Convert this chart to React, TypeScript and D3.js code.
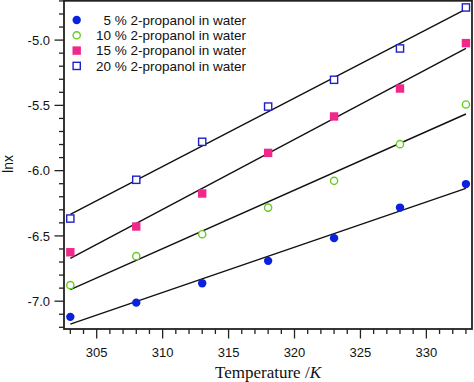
import React from "react";
import * as d3 from "d3";

const temps = [303, 308, 313, 318, 323, 328, 333];
const s5 = [-7.12, -7.011, -6.862, -6.691, -6.517, -6.283, -6.103];
const s10 = [-6.877, -6.655, -6.487, -6.283, -6.078, -5.797, -5.493];
const s15 = [-6.625, -6.428, -6.175, -5.864, -5.585, -5.371, -5.023];
const s20 = [-6.367, -6.07, -5.779, -5.509, -5.304, -5.064, -4.75];
const labels = ["5 % 2-propanol in water", "10 % 2-propanol in water", "15 % 2-propanol in water", "20 % 2-propanol in water"];
const xTicks = [305, 310, 315, 320, 325, 330];
const yTicks = [-7.0, -6.5, -6.0, -5.5, -5.0];

const series = [
  { vals: s5, type: "circleFill", color: "#0a22e0" },
  { vals: s10, type: "circleOpen", color: "#66cc22" },
  { vals: s15, type: "squareFill", color: "#f0288c" },
  { vals: s20, type: "squareOpen", color: "#2020c8" },
];

function fit(xs: number[], ys: number[]) {
  const mx = d3.mean(xs)!, my = d3.mean(ys)!;
  let sxy = 0, sxx = 0;
  xs.forEach((x, i) => { sxy += (x - mx) * (ys[i] - my); sxx += (x - mx) ** 2; });
  const b = sxy / sxx;
  return (x: number) => my + b * (x - mx);
}

function Marker({ type, color, cx, cy }: { type: string; color: string; cx: number; cy: number }) {
  if (type === "circleFill") return <circle cx={cx} cy={cy} r={4.2} fill={color} />;
  if (type === "circleOpen") return <circle cx={cx} cy={cy} r={3.6} fill="white" stroke={color} strokeWidth={1.4} />;
  if (type === "squareFill") return <rect x={cx - 4.2} y={cy - 4.2} width={8.4} height={8.4} fill={color} />;
  return <rect x={cx - 3.6} y={cy - 3.6} width={7.2} height={7.2} fill="white" stroke={color} strokeWidth={1.4} />;
}

export default function App() {
  const W = 474, H = 382;
  const L = 64, R = 472, T = 0.8, B = 329;
  const x = d3.scaleLinear().domain([302.52, 333.46]).range([L, R]);
  const y = d3.scaleLinear().domain([-4.699, -7.213]).range([T, B]);
  const xMinor = d3.range(303, 334, 1);
  const yMinor = d3.range(-7.2, -4.69, 0.1);
  const font = "Liberation Sans, Arial, sans-serif";
  return (
    <svg width={W} height={H} style={{ position: "absolute", left: 0, top: 0, background: "white" }}>
      {series.map((s, i) => {
        const f = fit(temps, s.vals);
        const line = d3.line<number>().x(t => x(t)).y(t => y(f(t)));
        return <path key={"l" + i} d={line([303, 333])!} stroke="#111" strokeWidth={1.4} fill="none" />;
      })}
      {series.map((s, i) =>
        s.vals.map((v, j) => <Marker key={i + "-" + j} type={s.type} color={s.color} cx={x(temps[j])} cy={y(v)} />)
      )}
      <rect x={L} y={T} width={R - L} height={B - T} fill="none" stroke="#222" strokeWidth={1.8} />
      {xMinor.map(t => (
        <line key={"xm" + t} x1={x(t)} x2={x(t)} y1={B} y2={B + (t % 5 === 0 ? 9.5 : 5)} stroke="#222" strokeWidth={1.3} />
      ))}
      {xTicks.map(t => (
        <text key={"xt" + t} x={x(t)} y={357} textAnchor="middle" fontFamily={font} fontSize={13} fill="#111">{t}</text>
      ))}
      {yMinor.map((t, i) => {
        const major = Math.abs(Math.round(t * 2) - t * 2) < 1e-6;
        return <line key={"ym" + i} x1={L} x2={L - (major ? 9.5 : 5)} y1={y(t)} y2={y(t)} stroke="#222" strokeWidth={1.3} />;
      })}
      {yTicks.map(t => (
        <text key={"yt" + t} x={50} y={y(t) + 4.7} textAnchor="end" fontFamily={font} fontSize={13} fill="#111">{t.toFixed(1)}</text>
      ))}
      <text x={268} y={377.5} textAnchor="middle" fontFamily="Liberation Serif, Times New Roman, serif" fontSize={17} fill="#111">
        Temperature /<tspan fontStyle="italic">K</tspan>
      </text>
      <text transform="translate(13,164) rotate(-90)" textAnchor="middle" fontFamily={font} fontSize={14} fill="#111">lnx</text>
      {series.map((s, i) => {
        const cy = 20 + i * 15.3;
        return (
          <g key={"lg" + i}>
            <Marker type={s.type} color={s.color} cx={76.7} cy={cy} />
            <text x={246} y={cy + 4.8} textAnchor="end" fontFamily={font} fontSize={13.5} fill="#111">{labels[i]}</text>
          </g>
        );
      })}
    </svg>
  );
}
